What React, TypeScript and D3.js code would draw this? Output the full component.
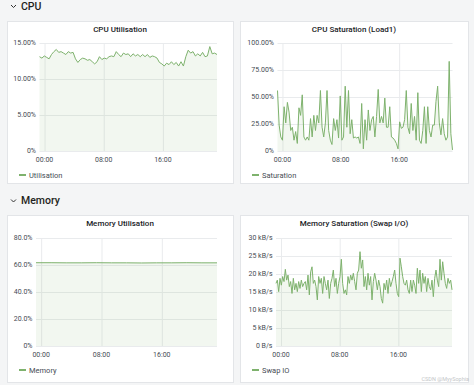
import React from 'react';
import * as d3 from 'd3';

// time window shown by every panel (last 24h)
const rangeStart = new Date(2021, 5, 1, 23, 19);
const rangeEnd = new Date(2021, 5, 2, 23, 19);

const cpuUtilisation = [
  13.1, 12.9, 13.2, 13.0, 12.8, 13.4, 13.8, 14.1, 13.7, 13.8, 13.6, 13.4, 13.8, 13.6, 13.7,
  12.8, 12.3, 12.7, 12.9, 12.8, 12.6, 12.7, 12.4, 12.1, 12.4, 13.1, 12.7, 12.9, 12.8, 13.1,
  13.2, 13.1, 13.8, 13.4, 13.1, 13.6, 13.4, 13.5, 13.1, 13.5, 13.2, 13.4, 13.1, 13.4, 13.1,
  13.4, 13.0, 13.2, 13.1, 12.9, 12.3, 12.1, 11.8, 12.2, 12.0, 12.4, 12.0, 12.3, 11.8, 12.4,
  11.8, 13.1, 14.0, 13.6, 13.8, 13.2, 13.5, 13.2, 13.7, 13.1, 13.2, 14.5, 13.5, 13.6, 13.4,
];

const cpuSaturation = [
  56, 24, 13, 10, 41, 26, 45, 36, 19, 22, 10, 18, 7, 40, 33, 52, 13, 10, 13, 10,
  30, 13, 33, 19, 33, 26, 56, 22, 13, 26, 56, 19, 10, 6, 30, 19, 29, 12, 51, 10,
  13, 60, 22, 56, 16, 29, 12, 13, 12, 13, 7, 44, 2, 29, 10, 38, 19, 29, 32, 13,
  32, 57, 26, 32, 26, 49, 22, 22, 41, 13, 12, 10, 7, 2, 27, 21, 22, 29, 56, 22,
  16, 44, 19, 32, 10, 54, 10, 7, 19, 41, 7, 41, 19, 13, 24, 24, 46, 60, 26, 15,
  30, 16, 10, 13, 83, 16, 1,
];

const memoryUtilisation = [61.7, 61.7, 61.6, 61.6, 61.7, 61.6, 61.6, 61.5, 61.6, 61.6, 61.7, 61.6, 61.6];

const swapIO = [
  17.4, 18.3, 15.1, 18.8, 16.9, 19.3, 17.9, 21.3, 18.3, 19.7, 16.5, 17.9, 14.6, 18.8, 15.6,
  17.4, 15.1, 17.9, 16.0, 18.3, 16.5, 17.4, 17.9, 15.6, 19.7, 14.2, 20.6, 22.0, 17.4, 18.3,
  16.5, 12.8, 19.3, 17.4, 18.8, 14.6, 19.3, 17.4, 15.6, 18.3, 13.2, 17.4, 18.8, 21.1, 16.5,
  18.8, 14.6, 17.4, 19.3, 24.1, 17.4, 14.6, 15.6, 14.2, 19.3, 17.4, 19.7, 18.3, 20.2, 17.9,
  15.6, 20.2, 21.1, 26.2, 21.6, 23.9, 16.5, 19.3, 15.6, 20.2, 16.9, 19.3, 12.8, 17.9, 20.2,
  18.3, 15.6, 18.3, 16.5, 13.2, 11.9, 17.4, 15.6, 18.3, 14.6, 18.8, 16.5, 17.9, 19.3, 21.1,
  17.4, 14.6, 13.7, 24.4, 22.0, 19.3, 17.4, 16.9, 18.3, 15.6, 14.6, 18.3, 15.1, 18.3, 16.9,
  14.6, 21.6, 17.4, 21.1, 15.1, 20.2, 17.4, 19.3, 15.1, 18.8, 16.5, 15.6, 18.3, 13.7, 18.8,
  21.1, 18.3, 16.5, 24.1, 18.3, 23.4, 20.2, 17.4, 16.0, 18.8, 17.4, 18.3, 15.6,
];

const cpuUtilTicks = [0, 5, 10, 15];
const cpuUtilLabels = ['0%', '5.00%', '10.00%', '15.00%'];
const cpuSatTicks = [0, 25, 50, 75, 100];
const cpuSatLabels = ['0%', '25.00%', '50.00%', '75.00%', '100.00%'];
const memTicks = [0, 20, 40, 60, 80];
const memLabels = ['0%', '20.0%', '40.0%', '60.0%', '80.0%'];
const swapTicks = [0, 5, 10, 15, 20, 25, 30];
const swapLabels = ['0 B/s', '5 kB/s', '10 kB/s', '15 kB/s', '20 kB/s', '25 kB/s', '30 kB/s'];

const GREEN = '#7eb26d';
const FONT = 'Roboto, Helvetica, Arial, sans-serif';

type PanelProps = {
  x: number; y: number; w: number; h: number;
  title: string;
  plot: { left: number; right: number; top: number; bottom: number };
  values: number[];
  ticks: number[];
  labels: string[];
  legend: string;
};

function Panel({ x, y, w, h, title, plot, values, ticks, labels, legend }: PanelProps) {
  const xScale = d3.scaleTime().domain([rangeStart, rangeEnd]).range([plot.left, plot.right]);
  const yScale = d3.scaleLinear().domain([0, ticks[ticks.length - 1]]).range([plot.bottom, plot.top]);
  const span = rangeEnd.getTime() - rangeStart.getTime();
  const pts = values.map((v, i) => ({ t: new Date(rangeStart.getTime() + (i * span) / (values.length - 1)), v }));
  const line = d3.line<{ t: Date; v: number }>().x(d => xScale(d.t)).y(d => yScale(d.v));
  const area = d3.area<{ t: Date; v: number }>().x(d => xScale(d.t)).y0(yScale(0)).y1(d => yScale(d.v));
  const xTicks = xScale.ticks(d3.timeHour.every(8)!);
  const fmt = d3.timeFormat('%H:%M');

  return (
    <g>
      <rect x={x + 0.5} y={y + 0.5} width={w} height={h} fill="#fff" stroke="#e3e5e8" />
      <text x={x + w / 2} y={y + 11} textAnchor="middle" fontSize={8} fontWeight={500} fill="#202226">{title}</text>
      {ticks.map(t => (
        <line key={'h' + t} x1={plot.left} x2={plot.right} y1={yScale(t) + 0.5} y2={yScale(t) + 0.5} stroke="#e9ebed" />
      ))}
      {xTicks.map(t => (
        <line key={'v' + t.getTime()} x1={xScale(t) + 0.5} x2={xScale(t) + 0.5} y1={plot.top} y2={plot.bottom} stroke="#e9ebed" />
      ))}
      <path d={area(pts) || ''} fill={GREEN} fillOpacity={0.1} />
      <path d={line(pts) || ''} fill="none" stroke={GREEN} strokeWidth={1} />
      {ticks.map((t, i) => (
        <text key={'yl' + t} x={plot.left - 3.5} y={yScale(t)} dy="0.35em" textAnchor="end" fontSize={7} fill="#464c54">{labels[i]}</text>
      ))}
      {xTicks.map(t => (
        <text key={'xl' + t.getTime()} x={xScale(t)} y={plot.bottom + 10.5} textAnchor="middle" fontSize={7} fill="#464c54">{fmt(t)}</text>
      ))}
      <line x1={x + 12} x2={x + 19} y1={plot.bottom + 24} y2={plot.bottom + 24} stroke={GREEN} strokeWidth={2} />
      <text x={x + 22} y={plot.bottom + 24} dy="0.35em" fontSize={7.5} fill="#464c54">{legend}</text>
    </g>
  );
}

export default function App() {
  return (
    <svg width={474} height={385} style={{ position: 'absolute', left: 0, top: 0 }} fontFamily={FONT}>
      <rect width={474} height={385} fill="#f4f5f6" />
      <path d="M11,5 L13.5,7.5 L16,5" fill="none" stroke="#333" strokeWidth={1} />
      <text x={21} y={10} fontSize={10.5} fontWeight={500} fill="#1f1f21">CPU</text>
      <path d="M11,199.5 L13.5,202 L16,199.5" fill="none" stroke="#333" strokeWidth={1} />
      <text x={21} y={204} fontSize={10.5} fontWeight={500} fill="#1f1f21">Memory</text>

      <Panel x={7} y={21} w={226} h={162} title="CPU Utilisation"
        plot={{ left: 39.5, right: 217, top: 43, bottom: 151 }}
        values={cpuUtilisation} ticks={cpuUtilTicks} labels={cpuUtilLabels} legend="Utilisation" />
      <Panel x={240} y={21} w={228} h={162} title="CPU Saturation (Load1)"
        plot={{ left: 277.5, right: 452.5, top: 43, bottom: 151 }}
        values={cpuSaturation} ticks={cpuSatTicks} labels={cpuSatLabels} legend="Saturation" />
      <Panel x={7} y={215} w={226} h={167} title="Memory Utilisation"
        plot={{ left: 36, right: 217, top: 238, bottom: 346 }}
        values={memoryUtilisation} ticks={memTicks} labels={memLabels} legend="Memory" />
      <Panel x={240} y={215} w={228} h={167} title="Memory Saturation (Swap I/O)"
        plot={{ left: 276, right: 452, top: 238, bottom: 346 }}
        values={swapIO} ticks={swapTicks} labels={swapLabels} legend="Swap IO" />

      <text x={469} y={381} textAnchor="end" fontSize={5.5} fill="#c4c6c9">CSDN @MyySophia</text>
    </svg>
  );
}
